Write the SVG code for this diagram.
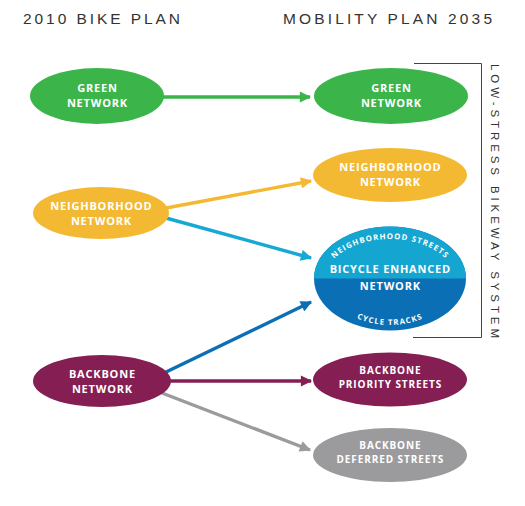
<svg xmlns="http://www.w3.org/2000/svg" width="525" height="506" viewBox="0 0 525 506">
<style>
.t{font-family:"Open Sans","Liberation Sans",sans-serif;font-weight:700;font-size:11px;fill:#fff;text-anchor:middle;letter-spacing:0.8px}
.s{font-family:"Open Sans","Liberation Sans",sans-serif;font-weight:700;font-size:10px;fill:#fff;text-anchor:middle;letter-spacing:0.9px}
.h{font-family:"Liberation Sans","DejaVu Sans",sans-serif;font-size:15.5px;fill:#333}
.arc{font-family:"Open Sans","Liberation Sans",sans-serif;font-weight:700;font-size:7.8px;fill:#fff;letter-spacing:1.1px}
.c{fill:none;stroke-width:3.4}
</style>
<defs>
<marker id="ag" viewBox="0 0 10 10" refX="9" refY="5" markerWidth="3.7" markerHeight="3.3" orient="auto" markerUnits="strokeWidth"><path d="M0,0L10,5L0,10z" fill="#3bb54a"/></marker>
<marker id="ay" viewBox="0 0 10 10" refX="9" refY="5" markerWidth="3.7" markerHeight="3.3" orient="auto" markerUnits="strokeWidth"><path d="M0,0L10,5L0,10z" fill="#f4b932"/></marker>
<marker id="al" viewBox="0 0 10 10" refX="9" refY="5" markerWidth="3.7" markerHeight="3.3" orient="auto" markerUnits="strokeWidth"><path d="M0,0L10,5L0,10z" fill="#17a8d4"/></marker>
<marker id="ad" viewBox="0 0 10 10" refX="9" refY="5" markerWidth="3.7" markerHeight="3.3" orient="auto" markerUnits="strokeWidth"><path d="M0,0L10,5L0,10z" fill="#0b6fb6"/></marker>
<marker id="am" viewBox="0 0 10 10" refX="9" refY="5" markerWidth="3.7" markerHeight="3.3" orient="auto" markerUnits="strokeWidth"><path d="M0,0L10,5L0,10z" fill="#851f53"/></marker>
<marker id="ax" viewBox="0 0 10 10" refX="9" refY="5" markerWidth="3.7" markerHeight="3.3" orient="auto" markerUnits="strokeWidth"><path d="M0,0L10,5L0,10z" fill="#9b9b9e"/></marker>
<clipPath id="topHalf"><rect x="300" y="200" width="180" height="78.5"/></clipPath>
<path id="arcTop" d="M323,283 A67 44 0 0 1 457,283"/>
<path id="arcBot" d="M326,279 A64 46 0 0 0 454,279"/>
</defs>
<text class="h" x="23" y="24" textLength="157" lengthAdjust="spacing">2010 BIKE PLAN</text>
<text class="h" x="283" y="24" textLength="209" lengthAdjust="spacing">MOBILITY PLAN 2035</text>
<g id="connectors">
<line class="c" x1="160" y1="97" x2="310" y2="97" stroke="#3bb54a" marker-end="url(#ag)"/>
<line class="c" x1="166" y1="208" x2="311" y2="181" stroke="#f4b932" marker-end="url(#ay)"/>
<line class="c" x1="166" y1="218" x2="311" y2="258" stroke="#17a8d4" marker-end="url(#al)"/>
<line class="c" x1="164" y1="373" x2="311" y2="302" stroke="#0b6fb6" marker-end="url(#ad)"/>
<line class="c" x1="168" y1="381" x2="311" y2="381" stroke="#851f53" marker-end="url(#am)"/>
<line class="c" x1="162" y1="393" x2="310" y2="450" stroke="#9b9b9e" marker-end="url(#ax)"/>
</g>
<g id="bracket">
<path d="M414,63.5H481.5V337.5H413" fill="none" stroke="#444" stroke-width="1"/>
<text transform="translate(491,64) rotate(90)" font-family="Liberation Sans,DejaVu Sans,sans-serif" font-size="11.5" fill="#333" textLength="274" lengthAdjust="spacing">LOW-STRESS BIKEWAY SYSTEM</text>
</g>
<g id="left-green">
<ellipse cx="97" cy="96" rx="67" ry="28" fill="#3bb54a"/>
<text class="t" x="97.4" y="92">GREEN</text>
<text class="t" x="97.4" y="107">NETWORK</text>
</g>
<g id="left-neighborhood">
<ellipse cx="101" cy="213" rx="68" ry="26" fill="#f4b932"/>
<text class="t" x="101.4" y="210">NEIGHBORHOOD</text>
<text class="t" x="101.4" y="225">NETWORK</text>
</g>
<g id="left-backbone">
<ellipse cx="102" cy="381" rx="69" ry="26" fill="#851f53"/>
<text class="t" x="102.4" y="378">BACKBONE</text>
<text class="t" x="102.4" y="393">NETWORK</text>
</g>
<g id="right-green">
<ellipse cx="391" cy="96" rx="77" ry="28" fill="#3bb54a"/>
<text class="t" x="391.4" y="92">GREEN</text>
<text class="t" x="391.4" y="107">NETWORK</text>
</g>
<g id="right-neighborhood">
<ellipse cx="390" cy="175" rx="77" ry="27" fill="#f4b932"/>
<text class="t" x="390.4" y="171">NEIGHBORHOOD</text>
<text class="t" x="390.4" y="186">NETWORK</text>
</g>
<g id="right-bicycle">
<ellipse cx="390" cy="278.5" rx="76" ry="52" fill="#0b6fb6"/>
<ellipse cx="390" cy="278.5" rx="76" ry="52" fill="#14a6d0" clip-path="url(#topHalf)"/>
<text class="arc"><textPath href="#arcTop" startOffset="50%" text-anchor="middle">NEIGHBORHOOD STREETS</textPath></text>
<text class="t" x="390.3" y="273" font-size="12.6" letter-spacing="0.6">BICYCLE ENHANCED</text>
<text class="t" x="390.3" y="290" font-size="12.6" letter-spacing="0.6">NETWORK</text>
<text class="arc"><textPath href="#arcBot" startOffset="50%" text-anchor="middle">CYCLE TRACKS</textPath></text>
</g>
<g id="right-priority">
<ellipse cx="390" cy="379.5" rx="77" ry="27" fill="#851f53"/>
<text class="s" x="390.4" y="374">BACKBONE</text>
<text class="s" x="390.4" y="388">PRIORITY STREETS</text>
</g>
<g id="right-deferred">
<ellipse cx="390" cy="455" rx="77" ry="27" fill="#9b9b9e"/>
<text class="s" x="390.4" y="449">BACKBONE</text>
<text class="s" x="390.4" y="463">DEFERRED STREETS</text>
</g>
</svg>
